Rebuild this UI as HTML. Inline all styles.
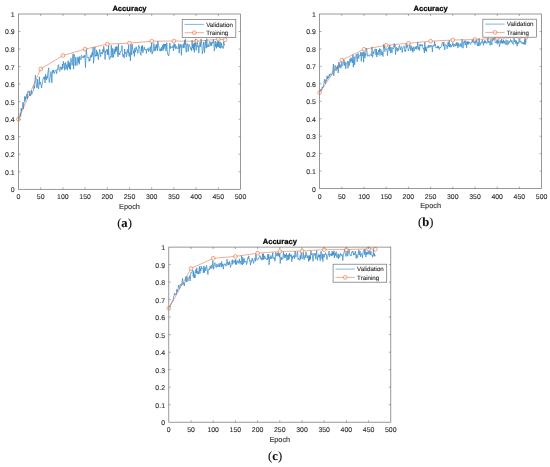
<!DOCTYPE html>
<html lang="en"><head><meta charset="utf-8"><title>Accuracy</title>
<style>html,body{margin:0;padding:0;background:#fff}svg{display:block}text{text-rendering:geometricPrecision;stroke:#444;stroke-width:0.14px;paint-order:stroke}</style></head>
<body>
<svg width="550" height="467" viewBox="0 0 550 467">
<rect width="550" height="467" fill="#fff"/>
<g><polyline points="18.5,119.2 18.9,118.1 19.4,116.9 19.8,116.3 20.3,112.8 20.7,116.5 21.2,108.1 21.6,111.4 22.1,108.0 22.5,107.7 22.9,102.2 23.4,109.1 23.8,103.4 24.3,102.0 24.7,96.3 25.2,101.2 25.6,96.9 26.0,98.7 26.5,95.6 26.9,93.7 27.4,98.6 27.8,91.2 28.3,91.6 28.7,92.6 29.2,90.9 29.6,95.8 30.0,93.7 30.5,96.1 30.9,93.5 31.4,90.5 31.8,94.4 32.3,92.1 32.7,91.8 33.2,91.1 33.6,89.2 34.0,85.5 34.5,88.3 34.9,81.9 35.4,75.2 35.8,79.5 36.3,84.0 36.7,87.6 37.1,87.9 37.6,79.2 38.0,86.5 38.5,88.9 38.9,85.1 39.4,76.8 39.8,84.5 40.3,82.0 40.7,82.9 41.1,85.2 41.6,88.0 42.0,84.3 42.5,83.2 42.9,79.5 43.4,78.0 43.8,77.1 44.3,79.4 44.7,76.5 45.1,82.9 45.6,74.1 46.0,76.9 46.5,79.9 46.9,76.3 47.4,78.3 47.8,72.9 48.2,70.9 48.7,67.8 49.1,82.4 49.6,82.3 50.0,78.0 50.5,74.9 50.9,71.5 51.4,73.5 51.8,82.9 52.2,75.4 52.7,70.3 53.1,72.5 53.6,69.9 54.0,73.6 54.5,73.3 54.9,71.3 55.4,70.1 55.8,70.7 56.2,70.7 56.7,73.7 57.1,69.0 57.6,69.8 58.0,65.3 58.5,64.7 58.9,68.6 59.3,70.6 59.8,71.4 60.2,66.7 60.7,67.8 61.1,69.2 61.6,67.3 62.0,69.8 62.5,64.0 62.9,68.4 63.3,61.3 63.8,64.5 64.2,63.5 64.7,70.3 65.1,64.8 65.6,62.3 66.0,69.0 66.5,66.0 66.9,64.6 67.3,70.1 67.8,63.0 68.2,60.6 68.7,67.4 69.1,62.2 69.6,68.8 70.0,63.4 70.4,69.6 70.9,58.2 71.3,60.9 71.8,62.5 72.2,65.3 72.7,56.8 73.1,53.7 73.6,69.1 74.0,56.3 74.4,54.6 74.9,59.7 75.3,65.8 75.8,57.3 76.2,61.4 76.7,62.9 77.1,65.4 77.6,58.0 78.0,56.8 78.4,62.5 78.9,57.7 79.3,64.3 79.8,56.3 80.2,59.2 80.7,60.0 81.1,59.5 81.5,55.4 82.0,55.8 82.4,56.5 82.9,58.0 83.3,58.1 83.8,55.7 84.2,57.2 84.7,55.2 85.1,59.1 85.5,67.5 86.0,53.4 86.4,48.7 86.9,55.6 87.3,57.7 87.8,57.7 88.2,57.6 88.7,56.9 89.1,61.4 89.5,58.8 90.0,60.6 90.4,55.6 90.9,57.6 91.3,54.4 91.8,56.9 92.2,52.2 92.6,55.2 93.1,47.3 93.5,63.3 94.0,58.3 94.4,52.1 94.9,46.8 95.3,56.4 95.8,55.1 96.2,56.1 96.6,49.9 97.1,56.1 97.5,52.3 98.0,56.1 98.4,59.7 98.9,53.4 99.3,52.6 99.8,49.4 100.2,54.8 100.6,56.7 101.1,52.0 101.5,53.2 102.0,52.9 102.4,54.2 102.9,49.3 103.3,52.3 103.7,46.3 104.2,49.3 104.6,50.9 105.1,59.6 105.5,51.0 106.0,51.6 106.4,50.0 106.9,49.0 107.3,54.4 107.7,49.8 108.2,55.0 108.6,45.4 109.1,57.9 109.5,59.5 110.0,59.0 110.4,56.1 110.9,56.9 111.3,45.3 111.7,53.9 112.2,57.7 112.6,48.4 113.1,54.8 113.5,57.2 114.0,49.3 114.4,50.2 114.8,54.1 115.3,47.2 115.7,52.0 116.2,46.4 116.6,50.5 117.1,46.6 117.5,51.9 118.0,56.8 118.4,44.2 118.8,54.3 119.3,53.0 119.7,54.8 120.2,53.0 120.6,51.3 121.1,51.4 121.5,49.7 122.0,45.5 122.4,52.5 122.8,56.6 123.3,56.4 123.7,54.4 124.2,58.1 124.6,49.0 125.1,53.7 125.5,53.0 125.9,51.9 126.4,56.9 126.8,55.0 127.3,49.4 127.7,49.6 128.2,53.4 128.6,45.2 129.1,56.4 129.5,52.9 129.9,52.5 130.4,60.9 130.8,44.6 131.3,50.2 131.7,55.2 132.2,44.1 132.6,49.2 133.1,49.7 133.5,53.4 133.9,50.8 134.4,56.5 134.8,48.2 135.3,52.3 135.7,50.5 136.2,46.7 136.6,49.8 137.0,49.9 137.5,49.8 137.9,53.3 138.4,47.7 138.8,45.2 139.3,47.9 139.7,47.4 140.2,53.5 140.6,53.4 141.0,55.3 141.5,46.0 141.9,51.1 142.4,45.3 142.8,52.8 143.3,51.6 143.7,49.7 144.2,46.8 144.6,49.7 145.0,49.1 145.5,49.7 145.9,49.1 146.4,53.5 146.8,49.4 147.3,50.2 147.7,49.7 148.1,47.8 148.6,51.7 149.0,49.7 149.5,50.3 149.9,47.9 150.4,46.6 150.8,52.4 151.3,47.1 151.7,42.1 152.1,54.0 152.6,51.8 153.0,51.9 153.5,49.8 153.9,43.4 154.4,48.8 154.8,51.1 155.3,46.6 155.7,50.7 156.1,44.9 156.6,47.6 157.0,43.9 157.5,50.7 157.9,41.1 158.4,45.7 158.8,46.2 159.2,48.5 159.7,50.7 160.1,51.2 160.6,48.7 161.0,50.9 161.5,47.2 161.9,50.9 162.4,46.0 162.8,44.8 163.2,50.3 163.7,43.9 164.1,48.7 164.6,44.0 165.0,46.3 165.5,44.0 165.9,51.1 166.4,48.0 166.8,42.7 167.2,49.7 167.7,54.4 168.1,54.0 168.6,55.9 169.0,54.5 169.5,48.8 169.9,43.0 170.3,48.8 170.8,46.2 171.2,47.6 171.7,47.1 172.1,47.7 172.6,47.7 173.0,45.5 173.5,51.0 173.9,43.6 174.3,43.8 174.8,47.6 175.2,44.2 175.7,49.2 176.1,48.7 176.6,46.3 177.0,47.4 177.5,48.3 177.9,49.0 178.3,48.6 178.8,43.6 179.2,53.2 179.7,45.5 180.1,47.5 180.6,44.2 181.0,44.9 181.4,55.3 181.9,44.6 182.3,45.5 182.8,46.5 183.2,48.1 183.7,43.6 184.1,47.9 184.6,40.3 185.0,44.5 185.4,39.2 185.9,49.0 186.3,52.3 186.8,43.9 187.2,43.5 187.7,46.2 188.1,51.5 188.6,47.8 189.0,44.2 189.4,46.8 189.9,46.6 190.3,46.8 190.8,49.3 191.2,47.9 191.7,50.9 192.1,40.1 192.5,47.7 193.0,44.4 193.4,49.5 193.9,43.3 194.3,52.3 194.8,42.9 195.2,46.1 195.7,38.8 196.1,50.3 196.5,45.6 197.0,44.6 197.4,41.7 197.9,47.3 198.3,45.6 198.8,53.1 199.2,48.6 199.7,44.3 200.1,42.1 200.5,46.7 201.0,38.9 201.4,39.9 201.9,46.0 202.3,53.9 202.8,51.7 203.2,48.4 203.6,42.0 204.1,44.7 204.5,52.7 205.0,46.5 205.4,40.2 205.9,46.9 206.3,48.2 206.8,38.7 207.2,45.5 207.6,47.2 208.1,44.4 208.5,45.5 209.0,47.0 209.4,41.5 209.9,41.8 210.3,42.7 210.8,45.9 211.2,41.7 211.6,45.7 212.1,43.9 212.5,42.0 213.0,42.8 213.4,39.5 213.9,44.0 214.3,51.1 214.7,49.4 215.2,40.9 215.6,46.5 216.1,44.1 216.5,48.3 217.0,42.0 217.4,46.7 217.9,40.5 218.3,47.2 218.7,41.6 219.2,43.1 219.6,47.8 220.1,41.6 220.5,48.3 221.0,48.1 221.4,42.9 221.9,47.4 222.3,47.3 222.7,46.4 223.2,48.6 223.6,41.7 224.1,43.2 224.5,45.4 225.0,45.6" fill="none" stroke="#2f86c6" stroke-width="0.7" stroke-linejoin="round"/><polyline points="18.5,119.2 40.7,69.0 62.9,55.5 85.1,49.1 107.3,44.2 129.5,43.1 151.7,41.2 173.9,41.0 196.1,41.3 218.3,39.2 225.0,39.8" fill="none" stroke="#e0693a" stroke-width="0.55"/><circle cx="18.5" cy="119.2" r="1.9" fill="#fff" fill-opacity="0.55" stroke="#e0693a" stroke-width="0.6"/><circle cx="40.7" cy="69.0" r="1.9" fill="#fff" fill-opacity="0.55" stroke="#e0693a" stroke-width="0.6"/><circle cx="62.9" cy="55.5" r="1.9" fill="#fff" fill-opacity="0.55" stroke="#e0693a" stroke-width="0.6"/><circle cx="85.1" cy="49.1" r="1.9" fill="#fff" fill-opacity="0.55" stroke="#e0693a" stroke-width="0.6"/><circle cx="107.3" cy="44.2" r="1.9" fill="#fff" fill-opacity="0.55" stroke="#e0693a" stroke-width="0.6"/><circle cx="129.5" cy="43.1" r="1.9" fill="#fff" fill-opacity="0.55" stroke="#e0693a" stroke-width="0.6"/><circle cx="151.7" cy="41.2" r="1.9" fill="#fff" fill-opacity="0.55" stroke="#e0693a" stroke-width="0.6"/><circle cx="173.9" cy="41.0" r="1.9" fill="#fff" fill-opacity="0.55" stroke="#e0693a" stroke-width="0.6"/><circle cx="196.1" cy="41.3" r="1.9" fill="#fff" fill-opacity="0.55" stroke="#e0693a" stroke-width="0.6"/><circle cx="218.3" cy="39.2" r="1.9" fill="#fff" fill-opacity="0.55" stroke="#e0693a" stroke-width="0.6"/><circle cx="225.0" cy="39.8" r="1.9" fill="#fff" fill-opacity="0.55" stroke="#e0693a" stroke-width="0.6"/><rect x="18.5" y="14.0" width="222.0" height="175.3" fill="none" stroke="#6e6e6e" stroke-width="0.7"/><path d="M40.7 189.3v-1.9M40.7 14.0v1.9M18.5 171.8h1.9M240.5 171.8h-1.9M62.9 189.3v-1.9M62.9 14.0v1.9M18.5 154.2h1.9M240.5 154.2h-1.9M85.1 189.3v-1.9M85.1 14.0v1.9M18.5 136.7h1.9M240.5 136.7h-1.9M107.3 189.3v-1.9M107.3 14.0v1.9M18.5 119.2h1.9M240.5 119.2h-1.9M129.5 189.3v-1.9M129.5 14.0v1.9M18.5 101.7h1.9M240.5 101.7h-1.9M151.7 189.3v-1.9M151.7 14.0v1.9M18.5 84.1h1.9M240.5 84.1h-1.9M173.9 189.3v-1.9M173.9 14.0v1.9M18.5 66.6h1.9M240.5 66.6h-1.9M196.1 189.3v-1.9M196.1 14.0v1.9M18.5 49.1h1.9M240.5 49.1h-1.9M218.3 189.3v-1.9M218.3 14.0v1.9M18.5 31.5h1.9M240.5 31.5h-1.9" stroke="#6e6e6e" stroke-width="0.6" fill="none"/><g font-family='"Liberation Sans", sans-serif' font-size="6.95" fill="#333"><text x="18.5" y="199.2" text-anchor="middle">0</text><text x="40.7" y="199.2" text-anchor="middle">50</text><text x="62.9" y="199.2" text-anchor="middle">100</text><text x="85.1" y="199.2" text-anchor="middle">150</text><text x="107.3" y="199.2" text-anchor="middle">200</text><text x="129.5" y="199.2" text-anchor="middle">250</text><text x="151.7" y="199.2" text-anchor="middle">300</text><text x="173.9" y="199.2" text-anchor="middle">350</text><text x="196.1" y="199.2" text-anchor="middle">400</text><text x="218.3" y="199.2" text-anchor="middle">450</text><text x="240.5" y="199.2" text-anchor="middle">500</text><text x="14.7" y="192.2" text-anchor="end">0</text><text x="14.7" y="174.7" text-anchor="end">0.1</text><text x="14.7" y="157.1" text-anchor="end">0.2</text><text x="14.7" y="139.6" text-anchor="end">0.3</text><text x="14.7" y="122.1" text-anchor="end">0.4</text><text x="14.7" y="104.6" text-anchor="end">0.5</text><text x="14.7" y="87.0" text-anchor="end">0.6</text><text x="14.7" y="69.5" text-anchor="end">0.7</text><text x="14.7" y="52.0" text-anchor="end">0.8</text><text x="14.7" y="34.4" text-anchor="end">0.9</text><text x="14.7" y="16.9" text-anchor="end">1</text></g><text x="129.5" y="209.0" text-anchor="middle" font-family='"Liberation Sans", sans-serif' font-size="7.35" fill="#333">Epoch</text><text x="129.5" y="10.7" text-anchor="middle" font-family='"Liberation Sans", sans-serif' font-size="7.6" font-weight="bold" fill="#000" style="stroke:#000;stroke-width:0.22px">Accuracy</text><rect x="182.2" y="19.5" width="53.6" height="18.0" fill="#fff" stroke="#6e6e6e" stroke-width="0.7"/><path d="M184.6 24.4h19.4" stroke="#2f86c6" stroke-width="0.6"/><path d="M184.6 32.7h19.4" stroke="#e0693a" stroke-width="0.55"/><circle cx="194.3" cy="32.7" r="1.9" fill="#fff" fill-opacity="0.55" stroke="#e0693a" stroke-width="0.6"/><g font-family='"Liberation Sans", sans-serif' font-size="6.2" fill="#333"><text x="206.2" y="26.6">Validation</text><text x="206.2" y="34.9">Training</text></g><text x="124.5" y="227.1" text-anchor="middle" font-family='"Liberation Serif", serif' font-size="12.6" fill="#111">(<tspan font-weight="bold">a</tspan>)</text></g>
<g><polyline points="319.6,92.6 320.0,91.7 320.5,91.7 320.9,89.0 321.4,90.5 321.8,89.1 322.3,86.8 322.7,88.0 323.2,87.0 323.6,86.0 324.0,83.0 324.5,79.4 324.9,82.2 325.4,83.6 325.8,79.6 326.3,81.2 326.7,79.2 327.1,75.8 327.6,79.2 328.0,76.7 328.5,78.0 328.9,75.7 329.4,74.2 329.8,76.5 330.3,74.3 330.7,73.5 331.1,73.9 331.6,74.6 332.0,74.6 332.5,70.9 332.9,70.6 333.4,64.0 333.8,75.9 334.3,69.0 334.7,68.2 335.1,65.3 335.6,67.4 336.0,71.0 336.5,68.5 336.9,66.8 337.4,69.0 337.8,65.6 338.2,73.0 338.7,62.0 339.1,62.5 339.6,67.6 340.0,64.4 340.5,65.8 340.9,68.2 341.4,65.0 341.8,61.8 342.2,66.0 342.7,65.7 343.1,64.5 343.6,62.7 344.0,59.8 344.5,65.6 344.9,61.8 345.4,62.5 345.8,68.8 346.2,64.1 346.7,62.9 347.1,62.4 347.6,61.1 348.0,68.2 348.5,61.5 348.9,63.5 349.3,65.7 349.8,59.3 350.2,58.5 350.7,62.5 351.1,57.7 351.6,61.2 352.0,59.6 352.5,63.0 352.9,54.5 353.3,67.2 353.8,59.3 354.2,56.7 354.7,64.9 355.1,59.1 355.6,58.6 356.0,55.7 356.5,54.2 356.9,59.1 357.3,61.9 357.8,53.3 358.2,53.6 358.7,58.5 359.1,55.9 359.6,55.6 360.0,54.9 360.4,55.8 360.9,52.0 361.3,61.3 361.8,52.8 362.2,54.6 362.7,56.2 363.1,51.9 363.6,62.2 364.0,51.6 364.4,53.8 364.9,58.2 365.3,53.4 365.8,55.5 366.2,48.0 366.7,49.0 367.1,53.0 367.6,56.3 368.0,55.8 368.4,54.9 368.9,55.5 369.3,56.4 369.8,55.4 370.2,54.4 370.7,55.0 371.1,55.4 371.5,55.9 372.0,46.8 372.4,57.3 372.9,55.9 373.3,51.6 373.8,53.7 374.2,51.4 374.7,50.2 375.1,48.8 375.5,50.2 376.0,55.1 376.4,49.0 376.9,57.1 377.3,52.3 377.8,53.3 378.2,54.8 378.7,50.0 379.1,52.1 379.5,48.6 380.0,55.6 380.4,48.9 380.9,49.8 381.3,50.8 381.8,55.0 382.2,51.7 382.6,55.2 383.1,56.6 383.5,44.5 384.0,47.9 384.4,45.5 384.9,51.6 385.3,48.4 385.8,48.3 386.2,48.5 386.6,50.1 387.1,50.7 387.5,55.7 388.0,48.3 388.4,48.8 388.9,46.8 389.3,50.6 389.8,45.0 390.2,51.0 390.6,53.2 391.1,47.1 391.5,50.9 392.0,53.0 392.4,49.2 392.9,47.5 393.3,48.8 393.7,48.1 394.2,43.4 394.6,47.1 395.1,45.2 395.5,54.6 396.0,48.2 396.4,47.1 396.9,50.1 397.3,51.4 397.7,48.0 398.2,49.9 398.6,50.6 399.1,45.9 399.5,45.3 400.0,48.0 400.4,50.0 400.9,47.4 401.3,46.5 401.7,47.0 402.2,52.5 402.6,49.5 403.1,47.6 403.5,46.9 404.0,45.9 404.4,46.4 404.8,51.4 405.3,50.2 405.7,51.5 406.2,43.5 406.6,47.7 407.1,46.7 407.5,45.4 408.0,48.9 408.4,51.0 408.8,49.1 409.3,48.4 409.7,44.1 410.2,45.7 410.6,50.7 411.1,46.1 411.5,45.9 412.0,50.5 412.4,48.0 412.8,52.4 413.3,46.8 413.7,48.4 414.2,51.0 414.6,49.3 415.1,46.9 415.5,48.9 415.9,46.7 416.4,46.0 416.8,49.5 417.3,48.1 417.7,41.9 418.2,47.0 418.6,49.4 419.1,47.1 419.5,50.5 419.9,44.3 420.4,46.2 420.8,44.4 421.3,44.8 421.7,46.0 422.2,44.5 422.6,46.5 423.1,48.5 423.5,49.4 423.9,47.9 424.4,53.0 424.8,42.2 425.3,51.0 425.7,46.9 426.2,49.9 426.6,51.6 427.0,46.8 427.5,47.3 427.9,46.9 428.4,45.1 428.8,48.0 429.3,45.5 429.7,45.1 430.2,47.2 430.6,47.0 431.0,45.0 431.5,46.1 431.9,45.8 432.4,51.9 432.8,46.0 433.3,45.2 433.7,46.4 434.2,45.2 434.6,41.4 435.0,45.7 435.5,44.3 435.9,47.9 436.4,47.9 436.8,47.0 437.3,48.2 437.7,45.8 438.1,47.9 438.6,46.1 439.0,49.0 439.5,49.5 439.9,47.2 440.4,48.0 440.8,47.0 441.3,46.9 441.7,46.3 442.1,42.9 442.6,42.2 443.0,43.6 443.5,46.1 443.9,41.8 444.4,48.8 444.8,49.9 445.3,44.5 445.7,45.1 446.1,45.4 446.6,45.0 447.0,48.8 447.5,47.6 447.9,42.1 448.4,42.5 448.8,46.5 449.2,40.4 449.7,47.2 450.1,46.1 450.6,44.1 451.0,47.4 451.5,45.8 451.9,45.0 452.4,45.5 452.8,42.6 453.2,43.2 453.7,47.0 454.1,46.0 454.6,44.0 455.0,44.6 455.5,46.2 455.9,43.4 456.4,42.5 456.8,45.7 457.2,42.5 457.7,47.9 458.1,47.8 458.6,43.1 459.0,46.0 459.5,46.4 459.9,44.7 460.3,45.6 460.8,43.3 461.2,47.3 461.7,44.8 462.1,39.0 462.6,43.7 463.0,48.2 463.5,42.5 463.9,42.6 464.3,40.7 464.8,43.5 465.2,45.2 465.7,40.6 466.1,42.1 466.6,47.7 467.0,42.0 467.5,44.2 467.9,41.1 468.3,44.4 468.8,41.8 469.2,43.1 469.7,42.2 470.1,43.5 470.6,44.4 471.0,43.3 471.4,42.0 471.9,42.4 472.3,39.7 472.8,42.4 473.2,41.9 473.7,38.6 474.1,43.1 474.6,42.0 475.0,44.5 475.4,43.0 475.9,39.5 476.3,42.4 476.8,39.9 477.2,45.4 477.7,46.1 478.1,42.4 478.6,46.0 479.0,38.2 479.4,40.2 479.9,45.7 480.3,43.3 480.8,44.2 481.2,42.0 481.7,43.0 482.1,40.8 482.5,39.6 483.0,43.3 483.4,45.4 483.9,41.6 484.3,43.2 484.8,40.3 485.2,43.1 485.7,40.9 486.1,42.0 486.5,43.1 487.0,43.7 487.4,41.1 487.9,37.9 488.3,40.8 488.8,42.9 489.2,41.1 489.7,42.3 490.1,45.4 490.5,41.9 491.0,39.2 491.4,43.2 491.9,44.9 492.3,41.4 492.8,38.5 493.2,40.4 493.6,40.2 494.1,37.6 494.5,38.9 495.0,40.8 495.4,42.8 495.9,42.0 496.3,42.5 496.8,40.5 497.2,44.2 497.6,38.9 498.1,41.9 498.5,43.1 499.0,40.5 499.4,46.7 499.9,44.0 500.3,43.6 500.8,40.4 501.2,43.2 501.6,39.1 502.1,43.1 502.5,41.0 503.0,43.7 503.4,39.7 503.9,42.7 504.3,41.0 504.7,43.2 505.2,44.4 505.6,42.6 506.1,39.7 506.5,44.2 507.0,45.3 507.4,42.7 507.9,40.4 508.3,44.3 508.7,43.2 509.2,41.6 509.6,42.7 510.1,41.4 510.5,39.4 511.0,41.9 511.4,42.1 511.9,40.3 512.3,42.1 512.7,43.9 513.2,44.1 513.6,44.3 514.1,37.8 514.5,42.0 515.0,40.6 515.4,40.3 515.8,43.8 516.3,40.5 516.7,43.0 517.2,46.2 517.6,42.2 518.1,44.1 518.5,42.5 519.0,41.0 519.4,37.1 519.8,42.8 520.3,42.1 520.7,40.9 521.2,41.3 521.6,42.0 522.1,44.0 522.5,43.7 523.0,42.0 523.4,44.1 523.8,43.0 524.3,44.3 524.7,39.3 525.2,44.7 525.6,37.6 526.1,42.8" fill="none" stroke="#2f86c6" stroke-width="0.7" stroke-linejoin="round"/><polyline points="319.6,92.6 341.8,60.1 364.0,49.3 386.2,45.3 408.4,43.3 430.6,41.2 452.8,40.0 475.0,39.5 497.2,38.4 519.4,37.4 526.1,37.4" fill="none" stroke="#e0693a" stroke-width="0.55"/><circle cx="319.6" cy="92.6" r="1.9" fill="#fff" fill-opacity="0.55" stroke="#e0693a" stroke-width="0.6"/><circle cx="341.8" cy="60.1" r="1.9" fill="#fff" fill-opacity="0.55" stroke="#e0693a" stroke-width="0.6"/><circle cx="364.0" cy="49.3" r="1.9" fill="#fff" fill-opacity="0.55" stroke="#e0693a" stroke-width="0.6"/><circle cx="386.2" cy="45.3" r="1.9" fill="#fff" fill-opacity="0.55" stroke="#e0693a" stroke-width="0.6"/><circle cx="408.4" cy="43.3" r="1.9" fill="#fff" fill-opacity="0.55" stroke="#e0693a" stroke-width="0.6"/><circle cx="430.6" cy="41.2" r="1.9" fill="#fff" fill-opacity="0.55" stroke="#e0693a" stroke-width="0.6"/><circle cx="452.8" cy="40.0" r="1.9" fill="#fff" fill-opacity="0.55" stroke="#e0693a" stroke-width="0.6"/><circle cx="475.0" cy="39.5" r="1.9" fill="#fff" fill-opacity="0.55" stroke="#e0693a" stroke-width="0.6"/><circle cx="497.2" cy="38.4" r="1.9" fill="#fff" fill-opacity="0.55" stroke="#e0693a" stroke-width="0.6"/><circle cx="519.4" cy="37.4" r="1.9" fill="#fff" fill-opacity="0.55" stroke="#e0693a" stroke-width="0.6"/><circle cx="526.1" cy="37.4" r="1.9" fill="#fff" fill-opacity="0.55" stroke="#e0693a" stroke-width="0.6"/><rect x="319.6" y="14.0" width="222.0" height="174.6" fill="none" stroke="#6e6e6e" stroke-width="0.7"/><path d="M341.8 188.6v-1.9M341.8 14.0v1.9M319.6 171.1h1.9M541.6 171.1h-1.9M364.0 188.6v-1.9M364.0 14.0v1.9M319.6 153.7h1.9M541.6 153.7h-1.9M386.2 188.6v-1.9M386.2 14.0v1.9M319.6 136.2h1.9M541.6 136.2h-1.9M408.4 188.6v-1.9M408.4 14.0v1.9M319.6 118.8h1.9M541.6 118.8h-1.9M430.6 188.6v-1.9M430.6 14.0v1.9M319.6 101.3h1.9M541.6 101.3h-1.9M452.8 188.6v-1.9M452.8 14.0v1.9M319.6 83.8h1.9M541.6 83.8h-1.9M475.0 188.6v-1.9M475.0 14.0v1.9M319.6 66.4h1.9M541.6 66.4h-1.9M497.2 188.6v-1.9M497.2 14.0v1.9M319.6 48.9h1.9M541.6 48.9h-1.9M519.4 188.6v-1.9M519.4 14.0v1.9M319.6 31.5h1.9M541.6 31.5h-1.9" stroke="#6e6e6e" stroke-width="0.6" fill="none"/><g font-family='"Liberation Sans", sans-serif' font-size="6.95" fill="#333"><text x="319.6" y="198.5" text-anchor="middle">0</text><text x="341.8" y="198.5" text-anchor="middle">50</text><text x="364.0" y="198.5" text-anchor="middle">100</text><text x="386.2" y="198.5" text-anchor="middle">150</text><text x="408.4" y="198.5" text-anchor="middle">200</text><text x="430.6" y="198.5" text-anchor="middle">250</text><text x="452.8" y="198.5" text-anchor="middle">300</text><text x="475.0" y="198.5" text-anchor="middle">350</text><text x="497.2" y="198.5" text-anchor="middle">400</text><text x="519.4" y="198.5" text-anchor="middle">450</text><text x="541.6" y="198.5" text-anchor="middle">500</text><text x="315.8" y="191.5" text-anchor="end">0</text><text x="315.8" y="174.0" text-anchor="end">0.1</text><text x="315.8" y="156.6" text-anchor="end">0.2</text><text x="315.8" y="139.1" text-anchor="end">0.3</text><text x="315.8" y="121.7" text-anchor="end">0.4</text><text x="315.8" y="104.2" text-anchor="end">0.5</text><text x="315.8" y="86.7" text-anchor="end">0.6</text><text x="315.8" y="69.3" text-anchor="end">0.7</text><text x="315.8" y="51.8" text-anchor="end">0.8</text><text x="315.8" y="34.4" text-anchor="end">0.9</text><text x="315.8" y="16.9" text-anchor="end">1</text></g><text x="430.6" y="208.3" text-anchor="middle" font-family='"Liberation Sans", sans-serif' font-size="7.35" fill="#333">Epoch</text><text x="430.6" y="10.7" text-anchor="middle" font-family='"Liberation Sans", sans-serif' font-size="7.6" font-weight="bold" fill="#000" style="stroke:#000;stroke-width:0.22px">Accuracy</text><rect x="482.8" y="19.2" width="53.6" height="18.0" fill="#fff" stroke="#6e6e6e" stroke-width="0.7"/><path d="M485.2 24.1h19.4" stroke="#2f86c6" stroke-width="0.6"/><path d="M485.2 32.4h19.4" stroke="#e0693a" stroke-width="0.55"/><circle cx="494.9" cy="32.4" r="1.9" fill="#fff" fill-opacity="0.55" stroke="#e0693a" stroke-width="0.6"/><g font-family='"Liberation Sans", sans-serif' font-size="6.2" fill="#333"><text x="506.8" y="26.3">Validation</text><text x="506.8" y="34.6">Training</text></g><text x="425.7" y="226.4" text-anchor="middle" font-family='"Liberation Serif", serif' font-size="12.6" fill="#111">(<tspan font-weight="bold">b</tspan>)</text></g>
<g><polyline points="168.8,308.4 169.2,307.3 169.7,306.4 170.1,306.6 170.6,304.8 171.0,303.9 171.5,302.7 171.9,302.4 172.4,300.7 172.8,300.3 173.2,300.5 173.7,296.5 174.1,295.5 174.6,293.2 175.0,294.8 175.5,294.6 175.9,293.9 176.3,294.7 176.8,289.3 177.2,292.0 177.7,291.3 178.1,288.9 178.6,285.2 179.0,286.8 179.5,288.6 179.9,287.4 180.3,284.2 180.8,285.2 181.2,285.8 181.7,284.1 182.1,281.5 182.6,278.4 183.0,284.6 183.5,282.9 183.9,282.8 184.3,285.9 184.8,282.2 185.2,281.9 185.7,276.7 186.1,279.0 186.6,282.0 187.0,276.4 187.4,278.4 187.9,281.3 188.3,278.3 188.8,277.9 189.2,278.3 189.7,275.7 190.1,281.0 190.6,275.8 191.0,272.2 191.4,272.4 191.9,271.6 192.3,271.4 192.8,270.2 193.2,276.6 193.7,271.5 194.1,278.1 194.6,274.7 195.0,277.9 195.4,270.2 195.9,269.3 196.3,273.0 196.8,267.8 197.2,273.8 197.7,271.5 198.1,271.4 198.5,274.2 199.0,270.3 199.4,266.3 199.9,273.6 200.3,268.5 200.8,271.0 201.2,266.0 201.7,269.0 202.1,268.4 202.5,268.3 203.0,269.1 203.4,273.0 203.9,265.8 204.3,272.6 204.8,268.4 205.2,267.3 205.7,270.8 206.1,268.2 206.5,265.4 207.0,268.3 207.4,270.3 207.9,274.5 208.3,270.2 208.8,269.1 209.2,268.7 209.6,269.7 210.1,266.2 210.5,268.4 211.0,267.1 211.4,264.9 211.9,268.6 212.3,267.1 212.8,260.7 213.2,263.8 213.6,269.2 214.1,266.1 214.5,264.4 215.0,262.7 215.4,265.4 215.9,267.0 216.3,267.5 216.8,263.9 217.2,264.7 217.6,266.8 218.1,265.9 218.5,266.4 219.0,263.5 219.4,267.0 219.9,263.9 220.3,263.0 220.7,263.8 221.2,267.1 221.6,261.6 222.1,266.6 222.5,263.8 223.0,266.7 223.4,269.1 223.9,264.1 224.3,263.9 224.7,264.7 225.2,263.7 225.6,265.9 226.1,266.0 226.5,264.5 227.0,259.2 227.4,261.8 227.9,265.1 228.3,262.3 228.7,264.8 229.2,264.6 229.6,261.2 230.1,264.6 230.5,267.4 231.0,265.3 231.4,262.7 231.8,262.5 232.3,259.6 232.7,264.4 233.2,260.7 233.6,261.3 234.1,262.7 234.5,260.1 235.0,260.8 235.4,264.2 235.8,259.2 236.3,264.9 236.7,261.7 237.2,261.7 237.6,260.6 238.1,263.5 238.5,261.7 239.0,261.9 239.4,258.9 239.8,263.4 240.3,261.1 240.7,261.9 241.2,264.5 241.6,255.6 242.1,261.3 242.5,264.8 242.9,257.4 243.4,263.6 243.8,259.9 244.3,258.6 244.7,262.4 245.2,261.8 245.6,262.0 246.1,260.9 246.5,264.6 246.9,263.6 247.4,260.7 247.8,257.7 248.3,258.7 248.7,255.8 249.2,258.4 249.6,261.4 250.1,260.3 250.5,265.1 250.9,262.3 251.4,262.4 251.8,259.1 252.3,258.1 252.7,261.1 253.2,261.1 253.6,263.4 254.0,259.8 254.5,258.8 254.9,258.2 255.4,261.3 255.8,254.2 256.3,256.2 256.7,259.4 257.2,260.4 257.6,259.8 258.0,258.6 258.5,259.0 258.9,257.7 259.4,257.0 259.8,255.4 260.3,255.9 260.7,259.1 261.2,257.8 261.6,259.7 262.0,260.2 262.5,253.9 262.9,259.8 263.4,253.6 263.8,259.5 264.3,257.9 264.7,255.8 265.1,258.5 265.6,257.5 266.0,259.1 266.5,259.6 266.9,258.8 267.4,260.0 267.8,254.2 268.3,258.8 268.7,254.0 269.1,264.8 269.6,258.2 270.0,256.8 270.5,258.9 270.9,255.4 271.4,256.5 271.8,258.8 272.3,257.0 272.7,252.5 273.1,257.4 273.6,257.2 274.0,259.1 274.5,257.6 274.9,261.2 275.4,258.4 275.8,252.3 276.2,255.1 276.7,256.2 277.1,255.0 277.6,253.0 278.0,256.2 278.5,252.5 278.9,255.0 279.4,257.2 279.8,253.3 280.2,263.5 280.7,259.0 281.1,256.9 281.6,259.8 282.0,257.9 282.5,259.0 282.9,259.1 283.4,251.8 283.8,255.8 284.2,257.5 284.7,254.0 285.1,257.9 285.6,255.0 286.0,256.3 286.5,253.1 286.9,260.7 287.3,255.2 287.8,256.8 288.2,260.0 288.7,254.4 289.1,259.2 289.6,252.9 290.0,255.7 290.5,255.2 290.9,256.7 291.3,254.6 291.8,261.6 292.2,256.6 292.7,258.4 293.1,256.1 293.6,256.9 294.0,255.2 294.5,258.8 294.9,252.0 295.3,251.1 295.8,257.1 296.2,256.6 296.7,255.8 297.1,253.3 297.6,251.7 298.0,259.5 298.4,258.0 298.9,259.1 299.3,259.2 299.8,260.5 300.2,255.4 300.7,259.2 301.1,252.5 301.6,253.9 302.0,258.8 302.4,258.8 302.9,257.7 303.3,252.6 303.8,258.2 304.2,259.8 304.7,256.2 305.1,255.1 305.6,257.7 306.0,251.9 306.4,255.4 306.9,254.8 307.3,258.1 307.8,256.0 308.2,256.3 308.7,261.5 309.1,255.1 309.5,260.3 310.0,255.8 310.4,259.4 310.9,250.7 311.3,254.9 311.8,253.5 312.2,253.3 312.7,258.9 313.1,261.3 313.5,256.4 314.0,253.3 314.4,255.3 314.9,253.5 315.3,253.1 315.8,259.2 316.2,254.7 316.7,250.5 317.1,256.8 317.5,260.4 318.0,255.9 318.4,256.5 318.9,254.2 319.3,257.5 319.8,255.0 320.2,260.7 320.6,253.1 321.1,251.2 321.5,251.9 322.0,258.9 322.4,254.3 322.9,261.5 323.3,254.3 323.8,255.2 324.2,257.4 324.6,254.1 325.1,254.6 325.5,252.6 326.0,254.6 326.4,254.3 326.9,259.7 327.3,257.7 327.8,256.0 328.2,254.1 328.6,254.8 329.1,251.1 329.5,256.9 330.0,255.3 330.4,254.1 330.9,255.3 331.3,253.5 331.7,256.1 332.2,251.2 332.6,255.4 333.1,251.9 333.5,254.7 334.0,250.9 334.4,258.0 334.9,253.3 335.3,255.6 335.7,254.0 336.2,251.6 336.6,257.3 337.1,257.7 337.5,256.9 338.0,253.8 338.4,259.0 338.9,254.2 339.3,257.5 339.7,257.2 340.2,255.2 340.6,253.4 341.1,255.8 341.5,255.5 342.0,254.4 342.4,254.9 342.8,260.6 343.3,255.3 343.7,254.0 344.2,251.5 344.6,249.2 345.1,252.5 345.5,253.9 346.0,256.5 346.4,253.9 346.8,252.2 347.3,251.0 347.7,256.2 348.2,253.5 348.6,252.1 349.1,249.6 349.5,253.4 350.0,255.4 350.4,255.7 350.8,254.9 351.3,255.6 351.7,252.0 352.2,251.5 352.6,252.3 353.1,251.2 353.5,255.1 353.9,253.1 354.4,254.9 354.8,253.9 355.3,251.1 355.7,254.1 356.2,258.5 356.6,254.6 357.1,255.7 357.5,257.6 357.9,255.9 358.4,251.7 358.8,249.9 359.3,255.1 359.7,251.5 360.2,251.1 360.6,256.7 361.1,254.0 361.5,254.0 361.9,253.5 362.4,257.7 362.8,254.7 363.3,251.4 363.7,250.9 364.2,249.5 364.6,254.7 365.0,249.4 365.5,252.3 365.9,257.1 366.4,252.1 366.8,254.7 367.3,252.6 367.7,254.1 368.2,251.0 368.6,253.2 369.0,254.5 369.5,251.5 369.9,253.2 370.4,254.8 370.8,250.8 371.3,254.8 371.7,255.3 372.2,255.1 372.6,257.2 373.0,255.1 373.5,249.4 373.9,255.9 374.4,253.7 374.8,256.4 375.3,255.2" fill="none" stroke="#2f86c6" stroke-width="0.7" stroke-linejoin="round"/><polyline points="168.8,308.2 191.0,268.5 213.2,258.3 235.4,256.4 257.6,253.2 279.8,251.5 302.0,251.0 324.2,249.6 346.4,249.6 368.6,248.9 375.3,249.2" fill="none" stroke="#e0693a" stroke-width="0.55"/><circle cx="168.8" cy="308.2" r="1.9" fill="#fff" fill-opacity="0.55" stroke="#e0693a" stroke-width="0.6"/><circle cx="191.0" cy="268.5" r="1.9" fill="#fff" fill-opacity="0.55" stroke="#e0693a" stroke-width="0.6"/><circle cx="213.2" cy="258.3" r="1.9" fill="#fff" fill-opacity="0.55" stroke="#e0693a" stroke-width="0.6"/><circle cx="235.4" cy="256.4" r="1.9" fill="#fff" fill-opacity="0.55" stroke="#e0693a" stroke-width="0.6"/><circle cx="257.6" cy="253.2" r="1.9" fill="#fff" fill-opacity="0.55" stroke="#e0693a" stroke-width="0.6"/><circle cx="279.8" cy="251.5" r="1.9" fill="#fff" fill-opacity="0.55" stroke="#e0693a" stroke-width="0.6"/><circle cx="302.0" cy="251.0" r="1.9" fill="#fff" fill-opacity="0.55" stroke="#e0693a" stroke-width="0.6"/><circle cx="324.2" cy="249.6" r="1.9" fill="#fff" fill-opacity="0.55" stroke="#e0693a" stroke-width="0.6"/><circle cx="346.4" cy="249.6" r="1.9" fill="#fff" fill-opacity="0.55" stroke="#e0693a" stroke-width="0.6"/><circle cx="368.6" cy="248.9" r="1.9" fill="#fff" fill-opacity="0.55" stroke="#e0693a" stroke-width="0.6"/><circle cx="375.3" cy="249.2" r="1.9" fill="#fff" fill-opacity="0.55" stroke="#e0693a" stroke-width="0.6"/><rect x="168.8" y="247.1" width="222.0" height="175.1" fill="none" stroke="#6e6e6e" stroke-width="0.7"/><path d="M191.0 422.2v-1.9M191.0 247.1v1.9M168.8 404.7h1.9M390.8 404.7h-1.9M213.2 422.2v-1.9M213.2 247.1v1.9M168.8 387.2h1.9M390.8 387.2h-1.9M235.4 422.2v-1.9M235.4 247.1v1.9M168.8 369.7h1.9M390.8 369.7h-1.9M257.6 422.2v-1.9M257.6 247.1v1.9M168.8 352.2h1.9M390.8 352.2h-1.9M279.8 422.2v-1.9M279.8 247.1v1.9M168.8 334.6h1.9M390.8 334.6h-1.9M302.0 422.2v-1.9M302.0 247.1v1.9M168.8 317.1h1.9M390.8 317.1h-1.9M324.2 422.2v-1.9M324.2 247.1v1.9M168.8 299.6h1.9M390.8 299.6h-1.9M346.4 422.2v-1.9M346.4 247.1v1.9M168.8 282.1h1.9M390.8 282.1h-1.9M368.6 422.2v-1.9M368.6 247.1v1.9M168.8 264.6h1.9M390.8 264.6h-1.9" stroke="#6e6e6e" stroke-width="0.6" fill="none"/><g font-family='"Liberation Sans", sans-serif' font-size="6.95" fill="#333"><text x="168.8" y="432.1" text-anchor="middle">0</text><text x="191.0" y="432.1" text-anchor="middle">50</text><text x="213.2" y="432.1" text-anchor="middle">100</text><text x="235.4" y="432.1" text-anchor="middle">150</text><text x="257.6" y="432.1" text-anchor="middle">200</text><text x="279.8" y="432.1" text-anchor="middle">250</text><text x="302.0" y="432.1" text-anchor="middle">300</text><text x="324.2" y="432.1" text-anchor="middle">350</text><text x="346.4" y="432.1" text-anchor="middle">400</text><text x="368.6" y="432.1" text-anchor="middle">450</text><text x="390.8" y="432.1" text-anchor="middle">500</text><text x="165.0" y="425.1" text-anchor="end">0</text><text x="165.0" y="407.6" text-anchor="end">0.1</text><text x="165.0" y="390.1" text-anchor="end">0.2</text><text x="165.0" y="372.6" text-anchor="end">0.3</text><text x="165.0" y="355.1" text-anchor="end">0.4</text><text x="165.0" y="337.5" text-anchor="end">0.5</text><text x="165.0" y="320.0" text-anchor="end">0.6</text><text x="165.0" y="302.5" text-anchor="end">0.7</text><text x="165.0" y="285.0" text-anchor="end">0.8</text><text x="165.0" y="267.5" text-anchor="end">0.9</text><text x="165.0" y="250.0" text-anchor="end">1</text></g><text x="279.8" y="441.9" text-anchor="middle" font-family='"Liberation Sans", sans-serif' font-size="7.35" fill="#333">Epoch</text><text x="279.8" y="243.8" text-anchor="middle" font-family='"Liberation Sans", sans-serif' font-size="7.6" font-weight="bold" fill="#000" style="stroke:#000;stroke-width:0.22px">Accuracy</text><rect x="333.1" y="264.2" width="53.6" height="18.0" fill="#fff" stroke="#6e6e6e" stroke-width="0.7"/><path d="M335.5 269.1h19.4" stroke="#2f86c6" stroke-width="0.6"/><path d="M335.5 277.4h19.4" stroke="#e0693a" stroke-width="0.55"/><circle cx="345.2" cy="277.4" r="1.9" fill="#fff" fill-opacity="0.55" stroke="#e0693a" stroke-width="0.6"/><g font-family='"Liberation Sans", sans-serif' font-size="6.2" fill="#333"><text x="357.1" y="271.3">Validation</text><text x="357.1" y="279.6">Training</text></g><text x="275.1" y="460.0" text-anchor="middle" font-family='"Liberation Serif", serif' font-size="12.6" fill="#111">(<tspan font-weight="bold">c</tspan>)</text></g>
</svg>
</body></html>
